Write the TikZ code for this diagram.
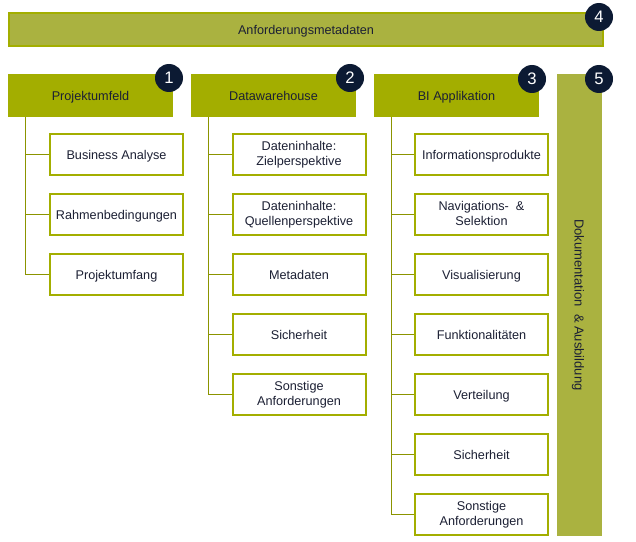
\documentclass[tikz,border=0pt]{standalone}
\usepackage{fontspec}
\setmainfont{Liberation Sans}
\usetikzlibrary{positioning}
\definecolor{headolive}{RGB}{163, 174, 0}
\definecolor{barolive}{RGB}{170, 178, 64}
\definecolor{badgenavy}{RGB}{12, 26, 51}
\definecolor{textnavy}{RGB}{28, 32, 52}
\newcommand\boxstrut{\rule[-1.6pt]{0pt}{11pt}}

\tikzset{
  headbox/.style={fill=headolive, minimum width=123.75pt, minimum height=32.25pt, inner sep=0pt,
    text=textnavy, font=\fontsize{9.5}{11}\selectfont, execute at begin node=\boxstrut},
  itembox/.style={draw=headolive, line width=1.5pt, fill=white, minimum width=99.75pt, minimum height=30.75pt,
    inner sep=0pt, align=center, text=textnavy, font=\fontsize{9.5}{11}\selectfont,
    execute at begin node=\boxstrut, execute at end node=\boxstrut},
  badge/.style={circle, fill=badgenavy, minimum size=21pt, inner sep=0pt, text=white,
    font=\fontsize{12.5}{12.5}\selectfont},
  tree/.style={draw=headolive!85!black, line width=0.75pt}
}

\begin{document}
\begin{tikzpicture}[x=0.75pt, y=-0.75pt]
  \useasboundingbox[fill=white] (0,0) rectangle (636,542);

  % Anforderungsmetadaten
  \node[draw=headolive, line width=1.5pt, fill=barolive, minimum width=445.5pt, minimum height=24.75pt,
    inner sep=0pt, text=textnavy, font=\fontsize{9.5}{11}\selectfont] (meta) at (306,29.5) {\boxstrut Anforderungsmetadaten};
  \node[badge] (b4) at (599,17) {4};

  % Dokumentation
  \node[fill=barolive, minimum width=33.75pt, minimum height=346.5pt, inner sep=0pt] (doku) at (579.5,305) {};
  \node[rotate=-90, text=textnavy, font=\fontsize{9.75}{11}\selectfont] (dokutext) at (doku.center) {\boxstrut Dokumentation\ \ \&~Ausbildung};
  \node[badge] (b5) at (599,79) {5};

  % Projektumfeld
  \node[headbox] (pf) at (90.5,95.5) {Projektumfeld};
  \node[badge] (b1) at (169,78) {1};
  \node[itembox] (pf1) at (116.5,154.5) {Business Analyse};
  \node[itembox] (pf2) at (116.5,214.5) {Rahmenbedingungen};
  \node[itembox] (pf3) at (116.5,274.5) {Projektumfang};
  \coordinate (tpf) at (25.5,117);
  \draw[tree] (tpf) |- (pf3.west);
  \draw[tree] (tpf |- pf1.west) -- (pf1.west);
  \draw[tree] (tpf |- pf2.west) -- (pf2.west);

  % Datawarehouse
  \node[headbox] (dw) at (273.5,95.5) {Datawarehouse};
  \node[badge] (b2) at (350,78) {2};
  \node[itembox] (dw1) at (299,154.5) {Dateninhalte:\\Zielperspektive};
  \node[itembox] (dw2) at (299,214.5) {Dateninhalte:\\Quellenperspektive};
  \node[itembox] (dw3) at (299,274.5) {Metadaten};
  \node[itembox] (dw4) at (299,334.5) {Sicherheit};
  \node[itembox] (dw5) at (299,394.5) {Sonstige\\Anforderungen};
  \coordinate (tdw) at (208.5,117);
  \draw[tree] (tdw) |- (dw5.west);
  \draw[tree] (tdw |- dw1.west) -- (dw1.west);
  \draw[tree] (tdw |- dw2.west) -- (dw2.west);
  \draw[tree] (tdw |- dw3.west) -- (dw3.west);
  \draw[tree] (tdw |- dw4.west) -- (dw4.west);

  % BI Applikation
  \node[headbox] (bi) at (456.5,95.5) {BI Applikation};
  \node[badge] (b3) at (532,79) {3};
  \node[itembox] (bi1) at (481.5,154.5) {Informationsprodukte};
  \node[itembox] (bi2) at (481.5,214.5) {Navigations-\ \ \&\\Selektion};
  \node[itembox] (bi3) at (481.5,274.5) {Visualisierung};
  \node[itembox] (bi4) at (481.5,334.5) {Funktionalitäten};
  \node[itembox] (bi5) at (481.5,394.5) {Verteilung};
  \node[itembox] (bi6) at (481.5,454.5) {Sicherheit};
  \node[itembox] (bi7) at (481.5,514.5) {Sonstige\\Anforderungen};
  \coordinate (tbi) at (391,117);
  \draw[tree] (tbi) |- (bi7.west);
  \draw[tree] (tbi |- bi1.west) -- (bi1.west);
  \draw[tree] (tbi |- bi2.west) -- (bi2.west);
  \draw[tree] (tbi |- bi3.west) -- (bi3.west);
  \draw[tree] (tbi |- bi4.west) -- (bi4.west);
  \draw[tree] (tbi |- bi5.west) -- (bi5.west);
  \draw[tree] (tbi |- bi6.west) -- (bi6.west);
\end{tikzpicture}
\end{document}
